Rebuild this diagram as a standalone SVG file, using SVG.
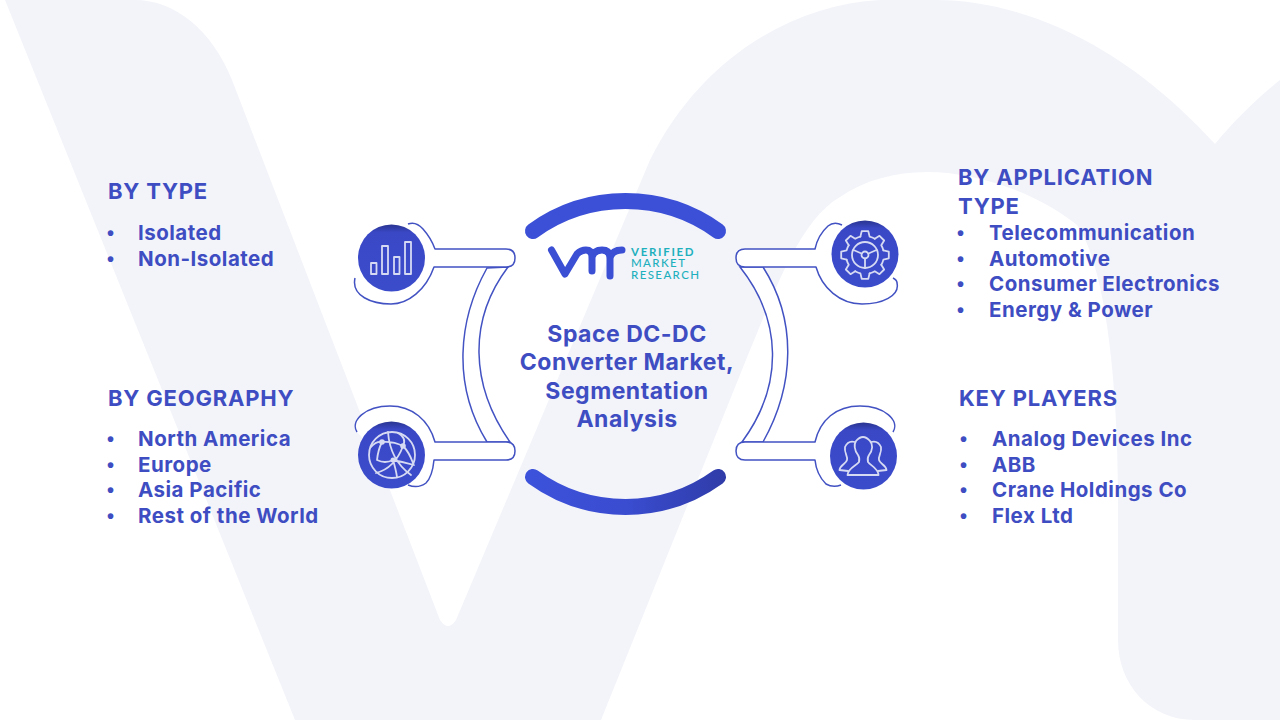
<svg xmlns="http://www.w3.org/2000/svg" xmlns:xlink="http://www.w3.org/1999/xlink" width="1280" height="720" viewBox="0 0 1280 720">
<style>
text{font-family:"Inter","Liberation Sans",sans-serif;font-weight:700;fill:#3e4dc2}
.h{font-size:22px;letter-spacing:.8px}
.li{font-size:20.5px;letter-spacing:.5px}
.bu{font-family:"Liberation Sans",sans-serif;font-size:20px}
.c{font-size:23px;letter-spacing:.5px;text-anchor:middle}
.lg{font-family:"Lato","Liberation Sans",sans-serif;font-size:11.5px;fill:#1fb0bd;letter-spacing:1.4px}
.cn{fill:#fff;stroke:#4252c2;stroke-width:1.5;stroke-linejoin:round}
.band{fill:#fff;stroke:#4252c2;stroke-width:1.5}
.ic{fill:none;stroke:#d6daf3;stroke-width:1.8;stroke-linejoin:round;stroke-linecap:round}
.disc{fill:url(#d)}
</style>
<defs>
<linearGradient id="d" x1="0" y1="0" x2="0" y2="1"><stop offset="0" stop-color="#2a3590"/><stop offset=".12" stop-color="#3a48c6"/><stop offset="1" stop-color="#3b4ccb"/></linearGradient>
<linearGradient id="b" gradientUnits="userSpaceOnUse" x1="530" y1="0" x2="725" y2="0"><stop offset="0" stop-color="#3c52da"/><stop offset=".5" stop-color="#3a4cd0"/><stop offset="1" stop-color="#2f3ca8"/></linearGradient>
<path id="tooth" d="M-4.6,-18.4L-3.3,-23.8L3.3,-23.8L4.6,-18.4A19,19 0 0 1 9.8,-16.3"/>
</defs>
<rect width="1280" height="720" fill="#fff"/>
<path id="bg" fill="#f3f4fa" d="M5,0L295,720H601L750,350C775,290 800,220 840,197C865,180 895,172 927,172C980,172 1040,195 1077,225C1105,265 1118,380 1118,500V640C1118,685 1150,720 1195,720H1280V80C1255,100 1235,120 1215,144C1170,95 1120,55 1060,28C1020,10 975,0 937,0H880C790,5 700,60 650,160L456,620Q448,632 440,620L232,80C212,30 175,0 135,0Z"/>

<g id="connectors">
<path class="band" d="M487,268C458,320 452,385 487,442H510C470,385 468,320 508,267Z"/>
<path class="band" d="M740,267C782,320 784,385 742,442H763C795,385 797,320 763,267Z"/>
<path class="cn" d="M408,224Q416,221 423,229Q431,238 435,249H506Q515,249 515,258Q515,267 506,267H434C426,290 408,304 391,304C372,304 351,296 355,278"/>
<path class="cn" d="M357,432C350,421 365,406 390,406C412,406 429,420 435,442H506Q515,442 515,451Q515,460 506,460H434C433,470 431,478 426,483Q418,489 408,485"/>
<path class="cn" d="M842,225Q834,221 828,226Q818,235 815,249H745Q736,249 736,258Q736,267 745,267H816C822,288 840,304 862,304C882,304 900,296 897,283Q897,280 893,278"/>
<path class="cn" d="M893,432C900,421 885,406 860,406C836,406 820,420 815,442H745Q736,442 736,451Q736,460 745,460H815C816,470 820,478 826,484Q833,488 841,485"/>
</g>

<g id="center">
<path d="M533,231A158,158 0 0 1 718,231" fill="none" stroke="#3b50d6" stroke-width="16" stroke-linecap="round"/>
<path d="M533,477A158,158 0 0 0 718,477" fill="none" stroke="url(#b)" stroke-width="16" stroke-linecap="round"/>
<g id="logo">
<path d="M551.5,250L565,274L577,254Q581,250 586,250Q592,250 592,257V271M592,257Q594,250 602,250Q610,250 610,258V276M610,258Q612,250 622,250" fill="none" stroke="#3b4fd4" stroke-width="7" stroke-linecap="round" stroke-linejoin="round"/>
<text class="lg" x="631" y="256" style="letter-spacing:1.7px">VERIFIED</text>
<text class="lg" x="631" y="267" style="font-weight:500">MARKET</text>
<text class="lg" x="631" y="279" style="font-weight:500">RESEARCH</text>
</g>
<text class="c" x="627" y="342">Space DC-DC</text>
<text class="c" x="627" y="370">Converter Market,</text>
<text class="c" x="627" y="399">Segmentation</text>
<text class="c" x="627" y="427">Analysis</text>
</g>

<g id="node-type">
<circle class="disc" cx="391.5" cy="258" r="33.5"/>
<g class="ic"><rect x="371" y="263" width="5.5" height="11"/><rect x="382" y="246" width="6" height="28"/><rect x="394" y="257" width="5.5" height="17"/><rect x="405" y="242" width="6" height="32"/></g>
<text class="h" x="108" y="199">BY TYPE</text>
<text class="bu" x="107" y="240">•</text><text class="li" x="138" y="240">Isolated</text>
<text class="bu" x="107" y="266">•</text><text class="li" x="138" y="266">Non-Isolated</text>
</g>

<g id="node-geography">
<circle class="disc" cx="391.5" cy="455" r="33.5"/>
<g class="ic"><circle cx="392" cy="455" r="23"/><path d="M371,447Q376,441 382,442Q393,441 403,446Q409,452 413,463M382,442Q378,450 377,460Q385,464 393,460Q403,462 414,465M376,473Q395,468 403,446M388,432Q390,460 411,475M398,433Q407,438 403,446M393,460Q396,470 397,477"/></g>
<g fill="#d6daf3"><circle cx="382" cy="442" r="2.8"/><circle cx="403" cy="446" r="2.8"/><circle cx="393" cy="460" r="2.5"/></g>
<text class="h" x="108" y="406">BY GEOGRAPHY</text>
<text class="bu" x="107" y="446">•</text><text class="li" x="138" y="446">North America</text>
<text class="bu" x="107" y="472">•</text><text class="li" x="138" y="472">Europe</text>
<text class="bu" x="107" y="497">•</text><text class="li" x="138" y="497">Asia Pacific</text>
<text class="bu" x="107" y="523">•</text><text class="li" x="138" y="523">Rest of the World</text>
</g>

<g id="node-application">
<circle class="disc" cx="865" cy="254" r="33.5"/>
<g class="ic" transform="translate(865,255)"><use href="#tooth"/><use href="#tooth" transform="rotate(45)"/><use href="#tooth" transform="rotate(90)"/><use href="#tooth" transform="rotate(135)"/><use href="#tooth" transform="rotate(180)"/><use href="#tooth" transform="rotate(225)"/><use href="#tooth" transform="rotate(270)"/><use href="#tooth" transform="rotate(315)"/><circle r="13"/><circle r="3.5"/><path d="M-11.5,-5L-3.5,-1.5M11.5,-5L3.5,-1.5M0,3.5V13"/></g>
<text class="h" x="958" y="185">BY APPLICATION</text>
<text class="h" x="958" y="214">TYPE</text>
<text class="bu" x="957" y="240">•</text><text class="li" x="989" y="240">Telecommunication</text>
<text class="bu" x="957" y="266">•</text><text class="li" x="989" y="266">Automotive</text>
<text class="bu" x="957" y="291">•</text><text class="li" x="989" y="291">Consumer Electronics</text>
<text class="bu" x="957" y="317">•</text><text class="li" x="989" y="317">Energy &amp; Power</text>
</g>

<g id="node-players">
<circle class="disc" cx="863.5" cy="456" r="33.5"/>
<g class="ic"><path d="M847.5,475C848,468 856,466 859,462Q860,458 858,455C854,450 854,444 856,441Q863,433 870,441C873,444 873,450 869,455Q867,458 868,462C871,466 878,468 878.5,475Z"/><path d="M855,442Q848,440 845,447C844,453 848,456 847,460C846,464 840,465 839.5,470L848,471"/><path d="M871,442Q878,440 881,447C882,453 878,456 879,460C880,464 886,465 886.5,470L878,471"/></g>
<text class="h" x="959" y="406">KEY PLAYERS</text>
<text class="bu" x="960" y="446">•</text><text class="li" x="992" y="446">Analog Devices Inc</text>
<text class="bu" x="960" y="472">•</text><text class="li" x="992" y="472">ABB</text>
<text class="bu" x="960" y="497">•</text><text class="li" x="992" y="497">Crane Holdings Co</text>
<text class="bu" x="960" y="523">•</text><text class="li" x="992" y="523">Flex Ltd</text>
</g>
</svg>
